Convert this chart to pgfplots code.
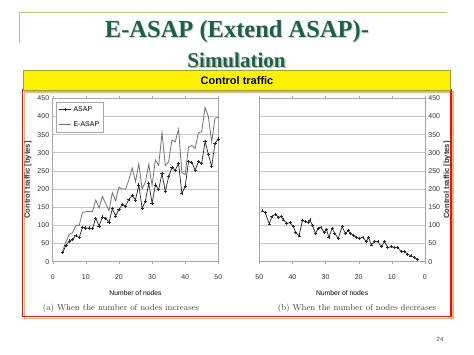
\documentclass[border=0pt]{standalone}
\usepackage{pgfplots}
\pgfplotsset{compat=1.18}
\usepackage{fontspec}
\newfontfamily\arial{Liberation Sans}
\newfontfamily\timesf{Liberation Serif}
\definecolor{titlegreen}{RGB}{28,98,66}
\definecolor{goldline}{RGB}{200,185,130}
\definecolor{boxborder}{RGB}{150,160,60}
\definecolor{redbox}{RGB}{225,20,20}
\definecolor{shadowtan}{RGB}{225,185,125}
\pgfplotsset{
  slidechart/.style={
    scale only axis, width=165.6pt, height=163.4pt,
    anchor=south west,
    xmin=0, xmax=50, ymin=0, ymax=450,
    xtick={0,10,...,50}, ytick={0,50,...,450},
    /pgf/number format/assume math mode=true,
    tick label style={font=\arial\fontsize{7}{8}\selectfont, text=black!80},
    xticklabel style={yshift=-7pt},
    ymajorgrids, grid style={gray!45, line width=0.6pt},
    axis line style={gray!70}, 
    xtick align=outside, major tick length=2pt,
    ytick style={draw=none}, xtick style={gray!70},
    xlabel={Number of nodes},
    xlabel style={font=\arial\fontsize{6.8}{8}\selectfont, at={(axis description cs:0.5,-0.19)}, anchor=center},
    ylabel={Control traffic [bytes]},
    ylabel style={font=\arial\bfseries\fontsize{7.6}{9}\selectfont, text=black!80, rotate=0},
  }
}
\begin{document}
\begin{tikzpicture}[x=1pt,y=1pt]
\fill[white] (0,0) rectangle (474,355);
% decorative lines
\draw[goldline, line width=0.8pt] (19.5,312) -- (19.5,343) -- (447,343);
% title
\node[gray!35, font=\timesf\bfseries\fontsize{24.5}{28}\selectfont] at (238,322.3) {E-ASAP (Extend ASAP)-};
\node[titlegreen, font=\timesf\bfseries\fontsize{24.5}{28}\selectfont] at (237,323.3) {E-ASAP (Extend ASAP)-};
\node[gray!45, font=\timesf\bfseries\fontsize{21}{24}\selectfont] at (238,293.3) {Simulation};
\node[titlegreen, font=\timesf\bfseries\fontsize{21}{24}\selectfont] at (236.5,294.3) {Simulation};
% red box with shadow
\draw[shadowtan, line width=1.5pt] (24.3,36.3) rectangle (453,263);
\draw[redbox, line width=1.4pt] (22.3,38.3) rectangle (451,265);
% yellow box
\draw[boxborder, fill=yellow, line width=0.8pt] (23.3,265) rectangle (450.7,284.3);
\node[font=\arial\bfseries\fontsize{11}{13}\selectfont] at (237,274.6) {Control traffic};
% captions
\node[black!75, font=\fontsize{8.6}{10}\selectfont] at (121,47) {(a) When the number of nodes increases};
\node[black!75, font=\fontsize{8.6}{10}\selectfont] at (357,47) {(b) When the number of nodes decreases};
\node[black!70, font=\arial\fontsize{6}{7}\selectfont] at (440,16) {24};

% left chart
\begin{axis}[slidechart, at={(52.7pt,93.3pt)},
  ylabel style={at={(axis description cs:-0.15,0.5)}, rotate=0, anchor=center},
  legend style={at={(0.02,0.98)}, anchor=north west, draw=gray!70,
    font=\arial\fontsize{7}{8}\selectfont, row sep=5pt, inner sep=2.5pt, cells={anchor=west}},
  legend image code/.code={\draw[mark repeat=2,mark phase=2,#1] plot coordinates {(0pt,0pt)(6pt,0pt)(12pt,0pt)};},
]
\addplot[black!85, line width=0.7pt, mark=+, mark size=1.6pt] coordinates {
(3,25)(4,45)(5,57)(6,61)(7,73)(8,66)(9,95)(10,93)(11,93)(12,91)
(13,120)(14,98)(15,123)(16,120)(17,108)(18,146)(19,126)(20,144)(21,157)(22,153)
(23,172)(24,182)(25,170)(26,211)(27,147)(28,167)(29,216)(30,161)(31,211)(32,199)
(33,243)(34,193)(35,234)(36,259)(37,252)(38,271)(39,188)(40,207)(41,275)(42,274)
(43,252)(44,275)(45,271)(46,331)(47,296)(48,262)(49,326)(50,338)};
\addlegendentry{ASAP}
\addplot[black!55, line width=0.8pt] coordinates {
(3,30)(4,55)(5,75)(6,80)(7,100)(8,100)(9,135)(10,138)(11,138)(12,138)
(13,170)(14,148)(15,180)(16,160)(17,140)(18,190)(19,168)(20,205)(21,200)(22,200)
(23,225)(24,258)(25,220)(26,270)(27,200)(28,220)(29,268)(30,210)(31,280)(32,265)
(33,355)(34,265)(35,275)(36,335)(37,330)(38,365)(39,245)(40,240)(41,315)(42,320)
(43,312)(44,355)(45,358)(46,425)(47,400)(48,330)(49,395)(50,398)};
\addlegendentry{E-ASAP}
\end{axis}

% right chart
\begin{axis}[slidechart, at={(259.3pt,93.3pt)}, x dir=reverse,
  yticklabel pos=right,
  ylabel style={at={(axis description cs:1.135,0.5)}, rotate=0, anchor=center},
]
\addplot[black!85, line width=0.7pt, mark=+, mark size=1.5pt] coordinates {
(49,140)(48.2,135)(47,104)(46.2,124)(45.2,131)(44.2,122)(43.4,124)(42.7,115)(41.7,106)(40.7,107)
(39.7,96)(39,80)(38,71)(37,113)(36,110)(35.2,107)(34.7,115)(34,101)(33,78)(32.2,92)
(31.4,95)(30.4,80)(29.7,89)(29,67)(28,92)(27.2,78)(26.2,64)(25,96)(24,78)(23.2,85)
(22.4,78)(21.7,73)(20.7,67)(19.7,64)(18.7,67)(17.7,55)(17,67)(16.2,46)(15.2,55)(14.2,55)
(13.2,41)(12.2,55)(11.2,39)(10.2,41)(9.2,39)(8.2,39)(7.2,28)(6.2,28)(5.2,21)(4.2,16)
(3.2,12)(2.2,6)};
\end{axis}
\end{tikzpicture}
\end{document}
